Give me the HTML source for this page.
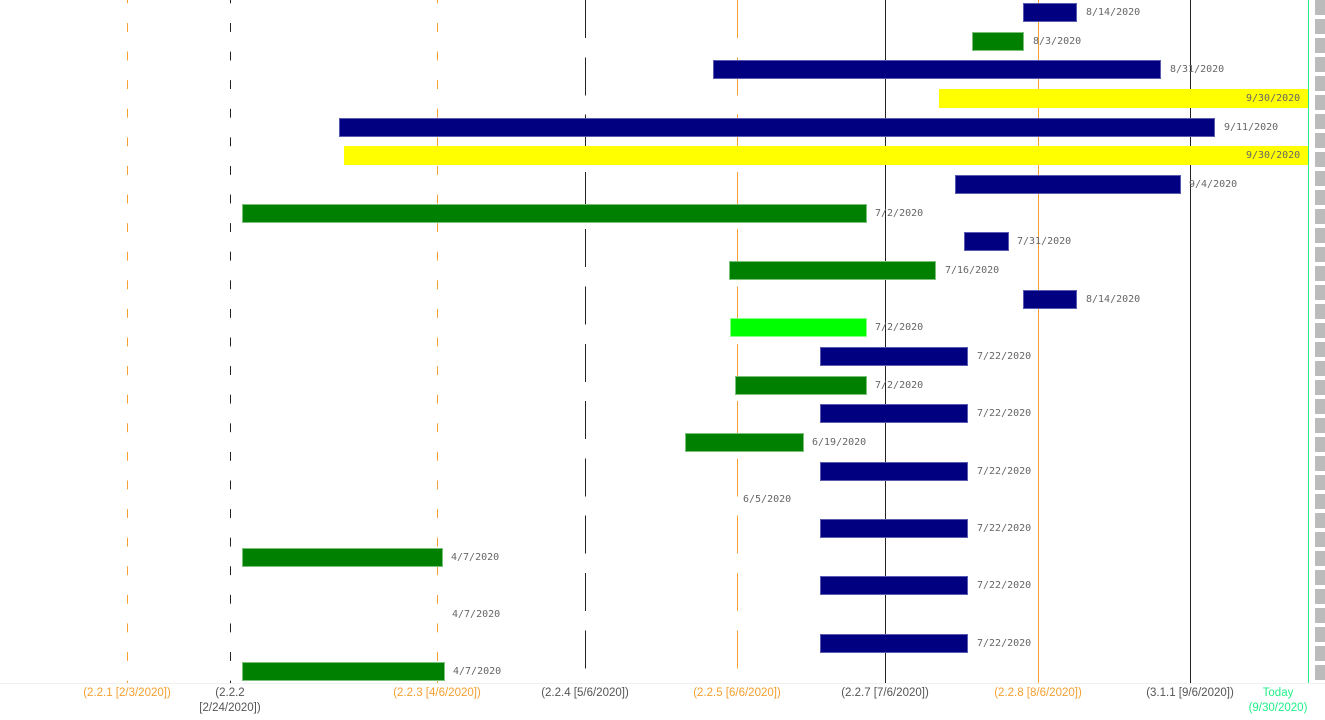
<!DOCTYPE html>
<html><head><meta charset="utf-8"><style>
body{margin:0;width:1325px;height:719px;background:#fff;position:relative;overflow:hidden;font-family:"DejaVu Sans Mono","Liberation Mono",monospace;}
.v{position:absolute;top:0;height:683px;width:1px;}
.b{position:absolute;height:19px;box-sizing:border-box;}
.n{background:#000080;border:1px solid #5a5ab0;}
.g{background:#008000;border:1px solid #7cc07c;}
.y{background:#ffff00;}
.l{background:#00ff00;border:1px solid #8f8;}
.t{position:absolute;font-size:10px;color:#666;line-height:12px;white-space:nowrap;}
.ax{position:absolute;top:686px;font-size:11.5px;line-height:15px;text-align:center;font-family:"Liberation Sans Narrow","Liberation Sans",sans-serif;}
.o{color:#f5a030}.d{color:#555}
</style></head><body>
<div class="v" style="left:127px;background:linear-gradient(#f5a030 0 9px,transparent 9px) 0 23px/1px 28.6px repeat-y"></div>
<div class="v" style="left:230px;background:linear-gradient(#222 0 9px,transparent 9px) 0 23px/1px 28.6px repeat-y"></div>
<div class="v" style="left:437px;background:linear-gradient(#f5a030 0 9px,transparent 9px) 0 23px/1px 28.6px repeat-y"></div>
<div class="v" style="left:585px;background:repeating-linear-gradient(#222 0 38px,transparent 38px 57.3px)"></div>
<div class="v" style="left:737px;background:repeating-linear-gradient(#f5a030 0 38px,transparent 38px 57.3px)"></div>
<div class="v" style="left:885px;background:#222"></div>
<div class="v" style="left:1038px;background:#f5a030"></div>
<div class="v" style="left:1190px;background:#222"></div>
<div class="v" style="left:1308px;background:#2e8;"></div>
<div style="position:absolute;left:1315px;top:0;width:10px;height:683px;background:repeating-linear-gradient(#bbb 0 15px,#fff 15px 19px)"></div>
<div style="position:absolute;left:0;top:683px;width:1325px;height:36px;background:#fff;border-top:1px solid #f0f0f0"></div>

<div class="b n" style="left:1023px;width:54px;top:3px"></div><div class="t" style="left:1086px;top:7px">8/14/2020</div>
<div class="b g" style="left:972px;width:52px;top:32px"></div><div class="t" style="left:1033px;top:36px">8/3/2020</div>
<div class="b n" style="left:713px;width:448px;top:60px"></div><div class="t" style="left:1170px;top:64px">8/31/2020</div>
<div class="b y" style="left:939px;width:369px;top:89px"></div><div class="t" style="left:1246px;top:93px">9/30/2020</div>
<div class="b n" style="left:339px;width:876px;top:118px"></div><div class="t" style="left:1224px;top:122px">9/11/2020</div>
<div class="b y" style="left:344px;width:964px;top:146px"></div><div class="t" style="left:1246px;top:150px">9/30/2020</div>
<div class="b n" style="left:955px;width:226px;top:175px"></div><div class="t" style="left:1189px;top:179px">9/4/2020</div>
<div class="b g" style="left:242px;width:625px;top:204px"></div><div class="t" style="left:875px;top:208px">7/2/2020</div>
<div class="b n" style="left:964px;width:45px;top:232px"></div><div class="t" style="left:1017px;top:236px">7/31/2020</div>
<div class="b g" style="left:729px;width:207px;top:261px"></div><div class="t" style="left:945px;top:265px">7/16/2020</div>
<div class="b n" style="left:1023px;width:54px;top:290px"></div><div class="t" style="left:1086px;top:294px">8/14/2020</div>
<div class="b l" style="left:730px;width:137px;top:318px"></div><div class="t" style="left:875px;top:322px">7/2/2020</div>
<div class="b n" style="left:820px;width:148px;top:347px"></div><div class="t" style="left:977px;top:351px">7/22/2020</div>
<div class="b g" style="left:735px;width:132px;top:376px"></div><div class="t" style="left:875px;top:380px">7/2/2020</div>
<div class="b n" style="left:820px;width:148px;top:404px"></div><div class="t" style="left:977px;top:408px">7/22/2020</div>
<div class="b g" style="left:685px;width:119px;top:433px"></div><div class="t" style="left:812px;top:437px">6/19/2020</div>
<div class="b n" style="left:820px;width:148px;top:462px"></div><div class="t" style="left:977px;top:466px">7/22/2020</div>
<div class="t" style="left:743px;top:494px">6/5/2020</div>
<div class="b n" style="left:820px;width:148px;top:519px"></div><div class="t" style="left:977px;top:523px">7/22/2020</div>
<div class="b g" style="left:242px;width:201px;top:548px"></div><div class="t" style="left:451px;top:552px">4/7/2020</div>
<div class="b n" style="left:820px;width:148px;top:576px"></div><div class="t" style="left:977px;top:580px">7/22/2020</div>
<div class="t" style="left:452px;top:609px">4/7/2020</div>
<div class="b n" style="left:820px;width:148px;top:634px"></div><div class="t" style="left:977px;top:638px">7/22/2020</div>
<div class="b g" style="left:242px;width:203px;top:662px"></div><div class="t" style="left:453px;top:666px">4/7/2020</div>

<div class="ax o" style="left:60px;width:134px">(2.2.1 [2/3/2020])</div>
<div class="ax d" style="left:180px;width:100px">(2.2.2<br>[2/24/2020])</div>
<div class="ax o" style="left:370px;width:134px">(2.2.3 [4/6/2020])</div>
<div class="ax d" style="left:518px;width:134px">(2.2.4 [5/6/2020])</div>
<div class="ax o" style="left:670px;width:134px">(2.2.5 [6/6/2020])</div>
<div class="ax d" style="left:818px;width:134px">(2.2.7 [7/6/2020])</div>
<div class="ax o" style="left:971px;width:134px">(2.2.8 [8/6/2020])</div>
<div class="ax d" style="left:1123px;width:134px">(3.1.1 [9/6/2020])</div>
<div class="ax" style="left:1238px;width:80px;color:#2e8">Today<br>(9/30/2020)</div>
</body></html>
